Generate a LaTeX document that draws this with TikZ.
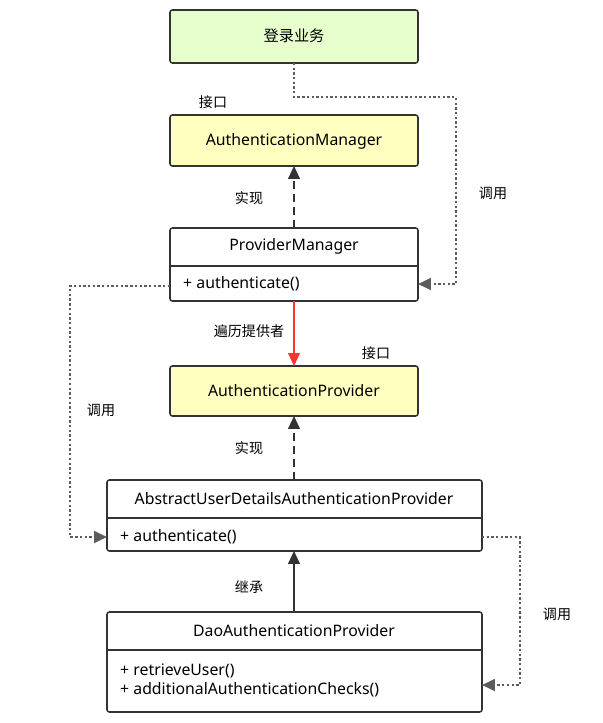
\documentclass[tikz,border=0pt]{standalone}
\usepackage{fontspec}
\setmainfont{Noto Sans}
\newfontfamily\cjk{Noto Sans CJK SC}
\usetikzlibrary{arrows.meta,positioning}
\definecolor{ln}{HTML}{333333}
\definecolor{grn}{HTML}{E6FFCC}
\definecolor{ylw}{HTML}{FFFFC0}
\tikzset{
    x=0.03cm, y=-0.03cm,
    every node/.style={font=\fontsize{13.5}{16}\selectfont},
    box/.style={draw=ln, line width=1.3pt, rounded corners=2pt, inner sep=0pt},
    txt/.style={inner sep=0pt, anchor=center},
    ltxt/.style={inner sep=0pt, anchor=west},
    lbl/.style={inner sep=0pt, font=\fontsize{12}{14}\cjk},
    arrow/.style={draw=ln, line width=1.4pt, -{Triangle[length=11pt,width=10pt]}},
    dashed_arrow/.style={arrow, dash pattern=on 7pt off 4pt},
    dotted_arrow/.style={draw=ln!80, line width=2pt, dash pattern=on 2pt off 2pt, -{Triangle[length=11pt,width=10pt]}},
}
\begin{document}
\begin{tikzpicture}
\useasboundingbox (0,0) rectangle (602,723);
% boxes
\draw[box, fill=grn] (170,10) rectangle (418,63);
\node (login) [txt, font=\fontsize{13}{15}\cjk] at (294,36) {登录业务};
\coordinate (login_b) at (294,63);

\draw[box, fill=ylw] (170,115) rectangle (418,166);
\node (am) [txt] at (294,141) {AuthenticationManager};
\coordinate (am_b) at (294,166);

\draw[box, fill=white] (170,228) rectangle (418,301);
\draw[ln, line width=1.3pt] (170,266) -- (418,266);
\node (pm) [txt] at (294,246) {ProviderManager};
\node (pm_m) [ltxt] at (183,284) {+ authenticate()};
\coordinate (pm_t) at (294,228);
\coordinate (pm_b) at (294,301);
\coordinate (pm_l) at (170,286);
\coordinate (pm_r) at (418,284);

\draw[box, fill=ylw] (170,366) rectangle (418,416);
\node (ap) [txt] at (294,391) {AuthenticationProvider};
\coordinate (ap_t) at (294,366);
\coordinate (ap_b) at (294,416);

\draw[box, fill=white] (107,480) rectangle (482,551);
\draw[ln, line width=1.3pt] (107,518) -- (482,518);
\node (aud) [txt] at (294,499) {AbstractUserDetailsAuthenticationProvider};
\node (aud_m) [ltxt] at (120,537) {+ authenticate()};
\coordinate (aud_t) at (294,480);
\coordinate (aud_b) at (294,551);
\coordinate (aud_l) at (107,537);
\coordinate (aud_r) at (482,537);

\draw[box, fill=white] (107,612) rectangle (482,712);
\draw[ln, line width=1.3pt] (107,650) -- (482,650);
\node (dao) [txt] at (294,631) {DaoAuthenticationProvider};
\node (dao_m1) [ltxt] at (120,671) {+ retrieveUser()};
\node (dao_m2) [ltxt] at (120,690) {+ additionalAuthenticationChecks()};
\coordinate (dao_t) at (294,612);
\coordinate (dao_r) at (482,685);

% labels
\node (l1) [lbl] at (213,102) {接口};
\node (l2) [lbl] at (249,198) {实现};
\node (l3) [lbl] at (493,193) {调用};
\node (l4) [lbl] at (249,331) {遍历提供者};
\node (l5) [lbl] at (376,353) {接口};
\node (l6) [lbl] at (101,410) {调用};
\node (l7) [lbl] at (249,448) {实现};
\node (l8) [lbl] at (249,587) {继承};
\node (l9) [lbl] at (557,614) {调用};

% connectors
\draw[dashed_arrow] (pm_t) -- (am_b);
\draw[dotted_arrow] (login_b) -- (294,97) -- (456,97) -- (456,284) -- (pm_r);
\draw[arrow, draw=red!80!white, fill=red!80!white] (pm_b) -- (ap_t);
\draw[dashed_arrow] (aud_t) -- (ap_b);
\draw[dotted_arrow] (pm_l) -- (70,286) -- (70,537) -- (aud_l);
\draw[arrow] (dao_t) -- (aud_b);
\draw[dotted_arrow] (aud_r) -- (520,537) -- (520,685) -- (dao_r);
\end{tikzpicture}
\end{document}
